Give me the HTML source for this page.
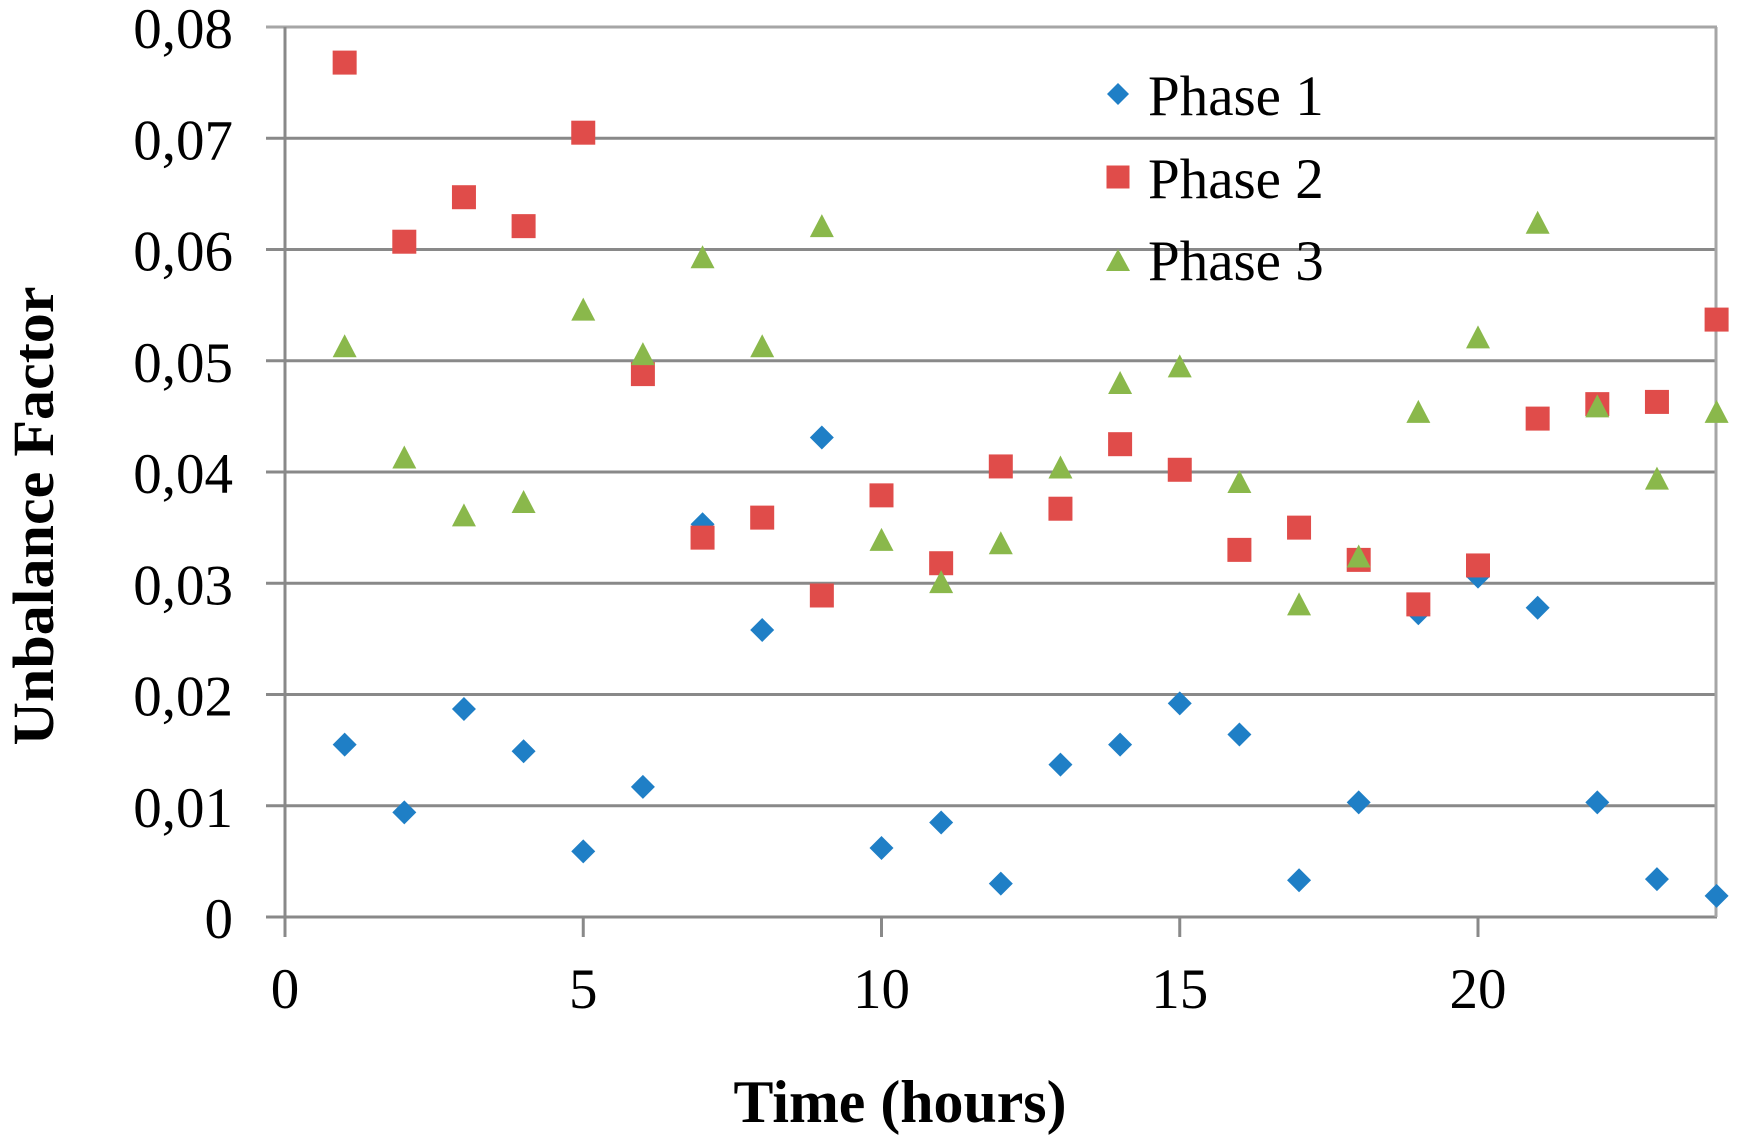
<!DOCTYPE html>
<html><head><meta charset="utf-8"><style>body{margin:0;background:#fff}svg{display:block}</style></head>
<body>
<svg id="s" width="1739" height="1141" xmlns="http://www.w3.org/2000/svg" font-family="'Liberation Serif', serif">
<g id="grid"></g>
<g id="pts"></g>
<g font-size="57" fill="#000">
<text x="1148" y="115">Phase 1</text>
<text x="1148" y="198">Phase 2</text>
<text x="1148" y="280">Phase 3</text>
</g>
<path d="M1118 83 L1129 94 L1118 105 L1107 94Z" fill="#1f7fc6"/>
<rect x="1106.5" y="165.5" width="23" height="23" fill="#e04c4a"/>
<path d="M1118 249 L1130 271 L1106 271Z" fill="#8ab84b"/>
<text x="900" y="1122" font-size="60" font-weight="bold" text-anchor="middle" textLength="333" lengthAdjust="spacingAndGlyphs">Time (hours)</text>
<text transform="translate(53,516) rotate(-90)" font-size="58" font-weight="bold" text-anchor="middle" textLength="459" lengthAdjust="spacingAndGlyphs">Unbalance Factor</text>
</svg>
<script>
const NS="http://www.w3.org/2000/svg";
const X=h=>285+h*59.65, Y=v=>917-v*11125;
const g=document.getElementById('grid'), p=document.getElementById('pts');
function el(par,t,a,txt){const e=document.createElementNS(NS,t);for(const k in a)e.setAttribute(k,a[k]);if(txt!==undefined)e.textContent=txt;par.appendChild(e);return e;}
for(let i=0;i<=8;i++){const y=Y(i*0.01);
 el(g,'line',{x1:266,x2:1717,y1:y,y2:y,stroke:i==8?'#a6a6a6':'#898989','stroke-width':3});
 el(g,'text',{x:233,y:y+21,'font-size':57,'text-anchor':'end'},i==0?'0':'0,0'+i);}
el(g,'line',{x1:1716,x2:1716,y1:27,y2:917,stroke:'#a6a6a6','stroke-width':3});
el(g,'line',{x1:285,x2:285,y1:27,y2:937,stroke:'#898989','stroke-width':3});
for(let h=0;h<=20;h+=5){el(g,'line',{x1:X(h),x2:X(h),y1:917,y2:937,stroke:'#898989','stroke-width':3});
 el(g,'text',{x:X(h),y:1008,'font-size':57,'text-anchor':'middle'},''+h);}
const p1=[.0155,.0094,.0187,.0149,.0059,.0117,.0353,.0258,.0431,.0062,.0085,.003,.0137,.0155,.0192,.0164,.0033,.0103,.0273,.0306,.0278,.0103,.0034,.0019];
const p2=[.0768,.0607,.0647,.0621,.0705,.0488,.0341,.0359,.0289,.0379,.0318,.0405,.0367,.0425,.0402,.033,.035,.0321,.0281,.0316,.0448,.0461,.0463,.0537];
const p3=[.0513,.0413,.0361,.0373,.0546,.0506,.0593,.0513,.0621,.0339,.0301,.0336,.0404,.048,.0495,.0391,.0281,.0324,.0454,.0521,.0624,.0459,.0394,.0454];
p1.forEach((v,i)=>{const x=X(i+1),y=Y(v);el(p,'path',{d:`M${x} ${y-12}L${x+12} ${y}L${x} ${y+12}L${x-12} ${y}Z`,fill:'#1f7fc6'});});
p2.forEach((v,i)=>{const x=X(i+1),y=Y(v);el(p,'rect',{x:x-12,y:y-12,width:24,height:24,fill:'#e04c4a'});});
p3.forEach((v,i)=>{const x=X(i+1),y=Y(v);el(p,'path',{d:`M${x} ${y-12}L${x+12} ${y+11}L${x-12} ${y+11}Z`,fill:'#8ab84b'});});
</script>
</body></html>
